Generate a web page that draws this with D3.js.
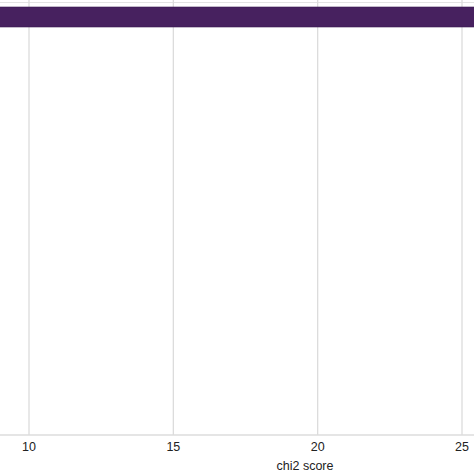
<!DOCTYPE html><html><head><meta charset="utf-8"><script src="https://cdn.jsdelivr.net/npm/d3@7"></script>
<style>body{margin:0;background:#fff}</style></head><body><svg id="c" width="474" height="474"></svg>
<script>
const categories=["feature"];
const scores=[26.2];
const ticks=[10,15,20,25];
const svg=d3.select("#c");
const x=d3.scaleLinear().domain([10,25]).range([29,462]);
const y=d3.scaleBand().domain(categories).range([7,27]);
svg.append("line").attr("x1",0).attr("x2",474).attr("y1",2.5).attr("y2",2.5).attr("stroke","#e3e3e3");
svg.selectAll(".g").data(ticks).join("line").attr("x1",d=>x(d)).attr("x2",d=>x(d)).attr("y1",0).attr("y2",435).attr("stroke","#dcdcdc").attr("stroke-width",1.3);
svg.append("line").attr("x1",0).attr("x2",474).attr("y1",435).attr("y2",435).attr("stroke","#dcdcdc").attr("stroke-width",1.3);
svg.selectAll(".b").data(scores).join("rect").attr("x",x(0)).attr("width",d=>x(d)-x(0)).attr("y",y(categories[0])).attr("height",y.bandwidth()).attr("fill","#47215f").attr("stroke","#3a1850").attr("stroke-width",0.6);
svg.selectAll(".t").data(ticks).join("text").attr("x",d=>x(d)).attr("y",451).attr("text-anchor","middle").attr("font-family","Liberation Sans, Arial").attr("font-size",12.5).attr("fill","#222").text(d=>d);
svg.append("text").attr("x",305).attr("y",470).attr("text-anchor","middle").attr("font-family","Liberation Sans, Arial").attr("font-size",12.5).attr("fill","#222").text("chi2 score");
</script></body></html>
